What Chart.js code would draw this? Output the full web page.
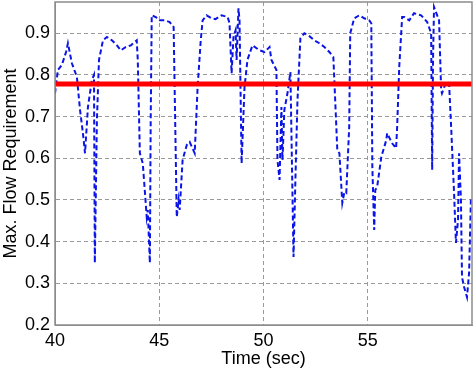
<!DOCTYPE html>
<html>
<head>
<meta charset="utf-8">
<script src="https://cdn.jsdelivr.net/npm/chart.js@4.4.0/dist/chart.umd.min.js"></script>
<style>
  html, body { margin: 0; padding: 0; background: #fff; }
  #wrap { width: 474px; height: 371px; }
</style>
</head>
<body>
<div id="wrap"><canvas id="chart" width="474" height="371"></canvas></div>
<script>
var timeSec = [
  40.00, 40.14, 40.33, 40.53, 40.62, 40.81, 41.05, 41.20, 41.34, 41.44,
  41.58, 41.77, 41.87, 41.91, 42.01, 42.11, 42.30, 42.49, 42.73, 42.97,
  43.16, 43.40, 43.64, 43.92, 43.97, 44.07, 44.21, 44.40, 44.45, 44.55,
  44.59, 44.64, 44.83, 45.02, 45.26, 45.50, 45.69, 45.84, 45.93, 45.98,
  46.12, 46.32, 46.46, 46.70, 46.84, 46.99, 47.08, 47.27, 47.51, 47.70,
  47.99, 48.28, 48.37, 48.47, 48.56, 48.66, 48.71, 48.80, 48.85, 48.95,
  49.09, 49.23, 49.47, 49.67, 49.81, 50.05, 50.29, 50.38, 50.62, 50.67,
  50.77, 50.86, 50.91, 51.00, 51.15, 51.29, 51.44, 51.53, 51.63, 51.77,
  51.96, 52.20, 52.44, 52.68, 52.92, 53.16, 53.35, 53.54, 53.64, 53.78,
  53.88, 53.97, 54.11, 54.16, 54.35, 54.59, 54.83, 55.07, 55.17, 55.22,
  55.31, 55.36, 55.45, 55.65, 55.89, 55.93, 56.17, 56.36, 56.41, 56.51,
  56.65, 56.75, 56.99, 57.22, 57.56, 57.85, 58.04, 58.09, 58.13, 58.18,
  58.42, 58.52, 58.56, 58.76, 58.90, 59.00, 59.14, 59.23, 59.33, 59.38,
  59.47, 59.52, 59.62, 59.76, 59.86, 59.95
];
var flowReq = [
  0.756, 0.812, 0.824, 0.855, 0.876, 0.828, 0.795, 0.716, 0.660, 0.612,
  0.723, 0.788, 0.800, 0.349, 0.692, 0.836, 0.883, 0.891, 0.883, 0.871,
  0.859, 0.867, 0.871, 0.883, 0.836, 0.612, 0.588, 0.459, 0.476, 0.349,
  0.692, 0.943, 0.939, 0.931, 0.931, 0.927, 0.915, 0.459, 0.500, 0.476,
  0.596, 0.632, 0.639, 0.612, 0.771, 0.883, 0.931, 0.943, 0.936, 0.934,
  0.943, 0.939, 0.924, 0.804, 0.891, 0.907, 0.836, 0.960, 0.931, 0.588,
  0.771, 0.836, 0.871, 0.864, 0.859, 0.855, 0.867, 0.836, 0.812, 0.596,
  0.548, 0.723, 0.596, 0.716, 0.756, 0.807, 0.363, 0.548, 0.740, 0.888,
  0.900, 0.893, 0.883, 0.876, 0.867, 0.855, 0.843, 0.620, 0.612, 0.493,
  0.519, 0.517, 0.675, 0.900, 0.936, 0.943, 0.936, 0.931, 0.924, 0.579,
  0.428, 0.524, 0.531, 0.603, 0.644, 0.660, 0.636, 0.624, 0.675, 0.819,
  0.939, 0.939, 0.931, 0.948, 0.943, 0.927, 0.900, 0.572, 0.836, 0.963,
  0.931, 0.764, 0.756, 0.783, 0.780, 0.675, 0.517, 0.397, 0.452, 0.612,
  0.500, 0.315, 0.291, 0.267, 0.325, 0.507
];
var threshold = 0.778;
var xTicks = [40, 45, 50, 55];
var yTicks = [0.2, 0.3, 0.4, 0.5, 0.6, 0.7, 0.8, 0.9];

var flowPts = timeSec.map(function (t, i) { return { x: t, y: flowReq[i] }; });
var limitPts = [{ x: 40, y: threshold }, { x: 60, y: threshold }];

// box round the plot area, like matlab's axes frame
var frame = {
  id: 'frame',
  afterDatasetsDraw: function (chart) {
    var a = chart.chartArea, c = chart.ctx;
    c.save();
    c.strokeStyle = '#8c8c8c';
    c.lineWidth = 1.5;
    c.strokeRect(a.left, a.top, a.right - a.left, a.bottom - a.top);
    c.restore();
  }
};

var font = { family: 'Liberation Sans, Arial, sans-serif', size: 18 };

new Chart(document.getElementById('chart'), {
  type: 'line',
  data: {
    datasets: [
      {
        data: limitPts,
        borderColor: '#ff0000',
        borderWidth: 5,
        pointRadius: 0
      },
      {
        data: flowPts,
        borderColor: '#0a14e6',
        borderWidth: 2,
        borderDash: [5, 3],
        pointRadius: 0,
        tension: 0
      }
    ]
  },
  options: {
    responsive: false,
    animation: false,
    devicePixelRatio: 1,
    layout: { padding: { top: 2, right: 2, left: 0, bottom: 0 } },
    plugins: { legend: { display: false }, tooltip: { enabled: false } },
    scales: {
      x: {
        type: 'linear',
        min: 40,
        max: 60,
        afterBuildTicks: function (s) { s.ticks = xTicks.map(function (v) { return { value: v }; }); },
        afterFit: function (s) { s.height = 46; s.paddingLeft = 0; s.paddingRight = 0; },
        grid: { color: '#9a9a9a', drawTicks: false, lineWidth: 1 },
        border: { display: true, color: '#8c8c8c', dash: [4, 3] },
        ticks: { color: '#000', font: font, padding: 5, maxRotation: 0 },
        title: { display: true, text: 'Time (sec)', color: '#000', font: font, padding: { top: 0, bottom: 1 } }
      },
      y: {
        min: 0.2,
        max: 0.975,
        afterBuildTicks: function (s) { s.ticks = yTicks.map(function (v) { return { value: v }; }); },
        afterFit: function (s) { s.width = 55; s.paddingTop = 0; s.paddingBottom = 0; },
        grid: { color: '#9a9a9a', drawTicks: false, lineWidth: 1 },
        border: { display: true, color: '#8c8c8c', dash: [4, 3] },
        ticks: {
          color: '#000', font: font, padding: 5,
          callback: function (v) { return v.toFixed(1); }
        },
        title: { display: true, text: 'Max. Flow Requirement', color: '#000', font: font, padding: { top: 0, bottom: 0 } }
      }
    }
  },
  plugins: [frame]
});
</script>
</body>
</html>
